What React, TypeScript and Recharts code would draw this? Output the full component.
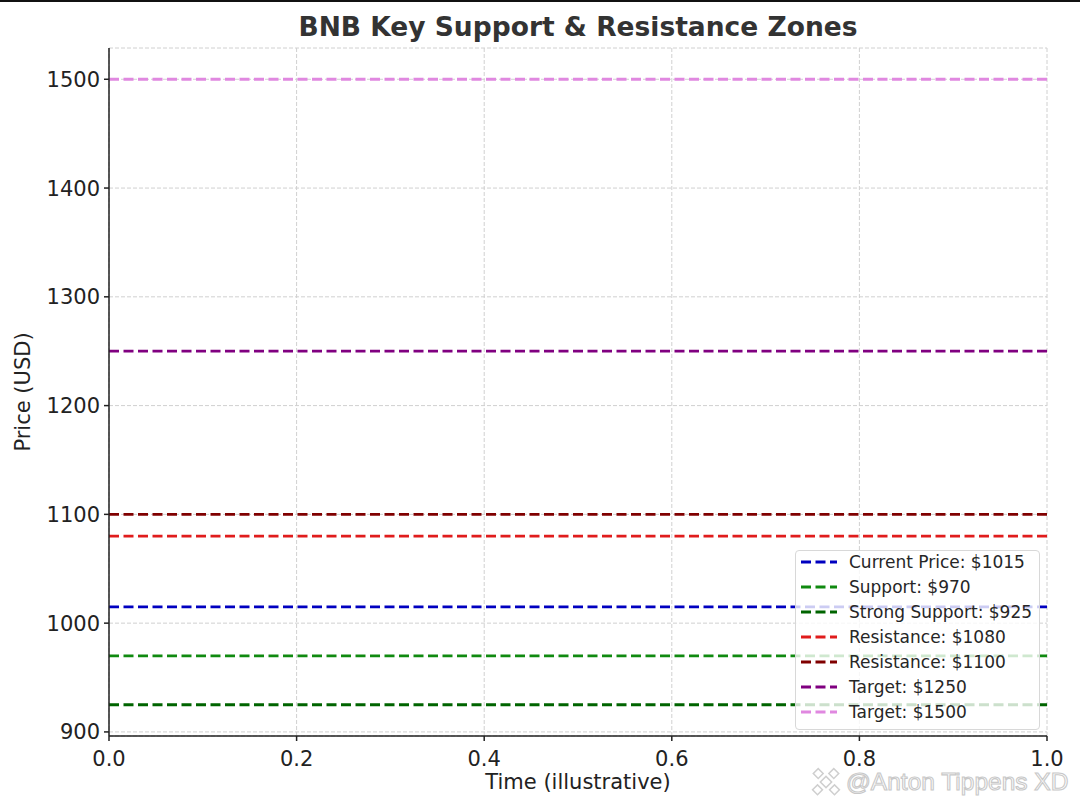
import React from "react";
import {
  LineChart,
  Line,
  XAxis,
  YAxis,
  CartesianGrid,
} from "recharts";

// price levels, one horizontal line each
const labels = [
  "Current Price: $1015",
  "Support: $970",
  "Strong Support: $925",
  "Resistance: $1080",
  "Resistance: $1100",
  "Target: $1250",
  "Target: $1500",
];
const levels = [1015, 970, 925, 1080, 1100, 1250, 1500];
const colors = ["#0000c0", "#108a10", "#006400", "#e01c1c", "#800000", "#800080", "#e088e0"];

const times = [0, 1];
const xTicks = [0, 0.2, 0.4, 0.6, 0.8, 1.0];
const yTicks = [900, 1000, 1100, 1200, 1300, 1400, 1500];

const FONT = "DejaVu Sans, sans-serif";

const data = times.map((t) => {
  const row: Record<string, number> = { t };
  levels.forEach((v, i) => {
    row[`s${i}`] = v;
  });
  return row;
});

function LegendBox() {
  return (
    <div
      style={{
        position: "absolute",
        left: 795,
        top: 548,
        width: 245,
        height: 180,
        boxSizing: "border-box",
        background: "rgba(255,255,255,0.8)",
        border: "1px solid #d8d8d8",
        borderRadius: 4,
        padding: "0 0 0 5px",
        fontFamily: FONT,
        fontSize: 17,
        color: "#262626",
      }}
    >
      {labels.map((label, i) => (
        <div
          key={label}
          style={{ display: "flex", alignItems: "center", height: 25, marginTop: i === 0 ? -2 : 0 }}
        >
          <svg width={36} height={6} style={{ marginRight: 12 }}>
            <line
              x1={0}
              y1={3}
              x2={36}
              y2={3}
              stroke={colors[i]}
              strokeWidth={2.8}
              strokeDasharray="10 4.5"
            />
          </svg>
          <span>{label}</span>
        </div>
      ))}
    </div>
  );
}

export default function App() {
  return (
    <div
      style={{
        position: "absolute",
        left: 0,
        top: 0,
        width: 1080,
        height: 809,
        background: "#fff",
        borderTop: "2px solid #111",
        boxSizing: "border-box",
      }}
    >
      <div
        style={{
          position: "absolute",
          left: 109,
          width: 938,
          top: 9,
          textAlign: "center",
          fontFamily: FONT,
          fontWeight: "bold",
          fontSize: 26.5,
          color: "#333",
        }}
      >
        BNB Key Support &amp; Resistance Zones
      </div>
      <div style={{ position: "absolute", left: 0, top: -2 }}>
        <LineChart
          width={1080}
          height={809}
          data={data}
          margin={{ top: 48, right: 33, left: 0, bottom: 0 }}
        >
          <CartesianGrid stroke="#d0d0d0" strokeDasharray="4 2" strokeWidth={1} />
          <XAxis
            dataKey="t"
            type="number"
            domain={[0, 1]}
            ticks={xTicks}
            tickFormatter={(v: number) => v.toFixed(1)}
            height={73}
            stroke="#222"
            strokeWidth={1.5}
            tickSize={5}
            tick={{ fill: "#222", fontSize: 21, fontFamily: FONT, dy: 8 }}
            label={{
              value: "Time (illustrative)",
              position: "insideBottom",
              offset: 20,
              fill: "#222",
              fontSize: 21,
              fontFamily: FONT,
            }}
          />
          <YAxis
            type="number"
            domain={[896.25, 1528.75]}
            ticks={yTicks}
            width={109}
            stroke="#222"
            strokeWidth={1.5}
            tickSize={5}
            tick={{ fill: "#222", fontSize: 21, fontFamily: FONT, dx: -2 }}
            label={{
              value: "Price (USD)",
              angle: -90,
              position: "insideLeft",
              offset: 23,
              fill: "#222",
              fontSize: 21,
              fontFamily: FONT,
              style: { textAnchor: "middle" },
            }}
          />
          {labels.map((label, i) => (
            <Line
              key={label}
              dataKey={`s${i}`}
              name={label}
              stroke={colors[i]}
              strokeWidth={2.8}
              strokeDasharray="10 4.5"
              dot={false}
              activeDot={false}
              isAnimationActive={false}
            />
          ))}
        </LineChart>
      </div>
      <LegendBox />
      <svg
        width={268}
        height={50}
        style={{ position: "absolute", left: 810, top: 755 }}
      >
        <g transform="translate(16,25)" fill="none" stroke="#cfcfcf" strokeWidth={1.5}>
          <rect x={-4} y={-4} width={8} height={8} transform="rotate(45)" />
          <rect x={-4} y={-15} width={7} height={7} transform="rotate(45)" />
          <rect x={8} y={-4} width={7} height={7} transform="rotate(45)" />
          <rect x={-4} y={8} width={7} height={7} transform="rotate(45)" />
          <rect x={-15} y={-4} width={7} height={7} transform="rotate(45)" />
        </g>
        <text
          x={36}
          y={33}
          fontFamily="Liberation Sans, sans-serif"
          fontSize={24.5}
          fill="#fff"
          stroke="#c8c8c8"
          strokeWidth={1.1}
        >
          @Anton Tippens XD
        </text>
      </svg>
    </div>
  );
}
